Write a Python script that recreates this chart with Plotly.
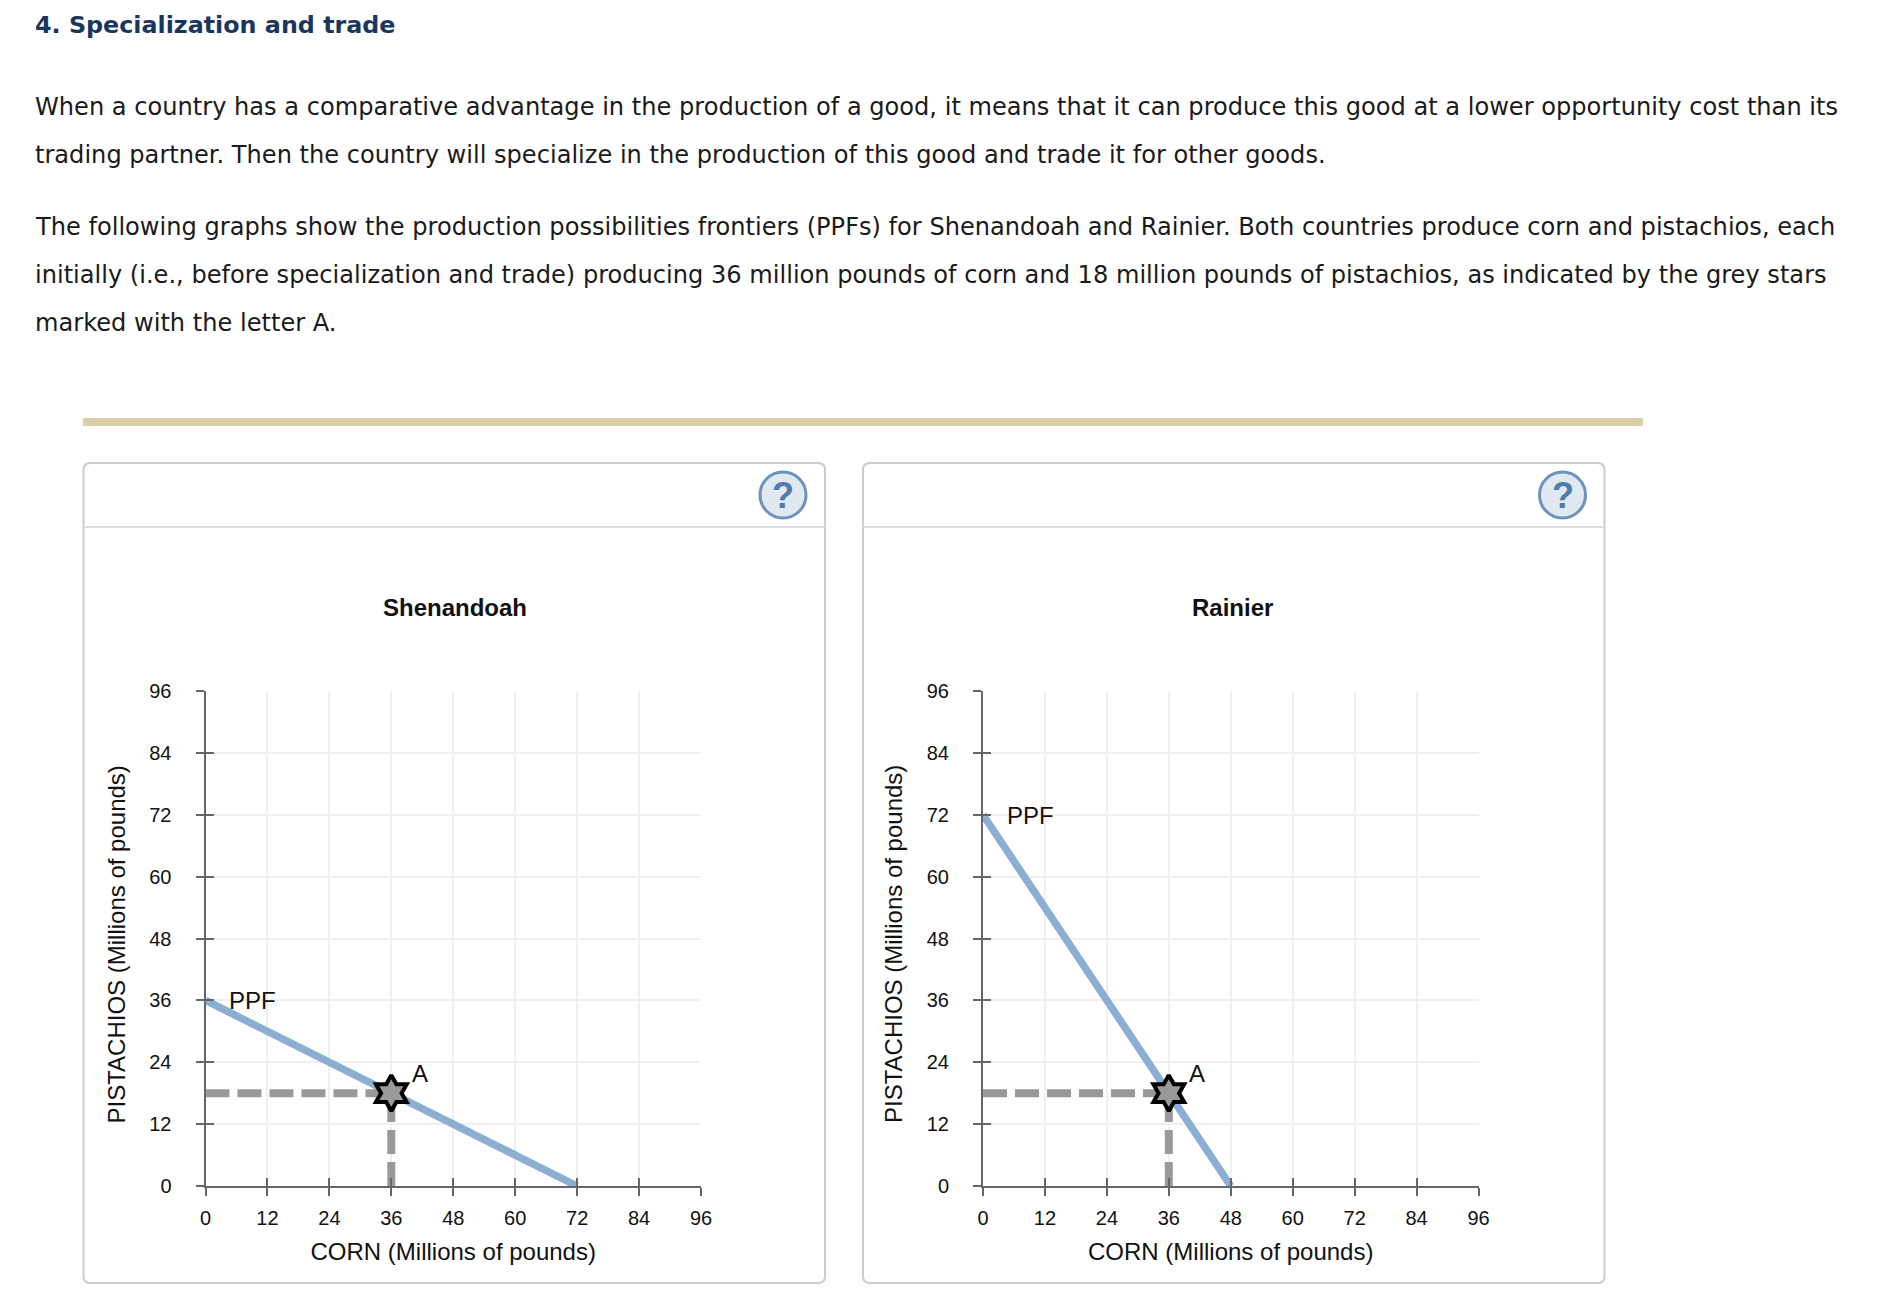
import plotly.graph_objects as go

W, H = 1884, 1315

# ---- data ----
countries = ["Shenandoah", "Rainier"]
ppf_corn = [[0, 72], [0, 48]]
ppf_pistachios = [[36, 0], [72, 0]]
point_corn = [36]
point_pistachios = [18]
point_label = ["A"]
tick_vals = [0, 12, 24, 36, 48, 60, 72, 84, 96]
x_title = "CORN (Millions of pounds)"
y_title = "PISTACHIOS (Millions of pounds)"
ppf_label_pos = [[4.2, 36.0], [4.2, 71.9]]
heading = "4. Specialization and trade"
body_lines = [
    "When a country has a comparative advantage in the production of a good, it means that it can produce this good at a lower opportunity cost than its",
    "trading partner. Then the country will specialize in the production of this good and trade it for other goods.",
    "The following graphs show the production possibilities frontiers (PPFs) for Shenandoah and Rainier. Both countries produce corn and pistachios, each",
    "initially (i.e., before specialization and trade) producing 36 million pounds of corn and 18 million pounds of pistachios, as indicated by the grey stars",
    "marked with the letter A.",
]
body_y = [106.5, 154.5, 226.5, 274.5, 323]

# ---- layout helpers (pixels -> paper) ----
def px(x): return x / W
def py(y): return 1 - y / H

PLOT_L = [205.5, 983]
PLOT_W = 495.5
PLOT_T, PLOT_B = 691, 1186
PANEL_L = [83.5, 863]
PANEL_W = 741.5
PANEL_T, PANEL_D, PANEL_B = 463, 527, 1283
AX = "#666666"
FONT = "Liberation Sans, Arial, sans-serif"
TEXT = "DejaVu Sans, Verdana, sans-serif"

def rounded(x0, y0, x1, y1, r=7):
    X0, X1 = px(x0), px(x1)
    rx = r / W
    Y0, Y1 = py(y0), py(y1)
    ry = r / H
    return (f"M {X0+rx} {Y0} L {X1-rx} {Y0} Q {X1} {Y0} {X1} {Y0-ry} "
            f"L {X1} {Y1+ry} Q {X1} {Y1} {X1-rx} {Y1} L {X0+rx} {Y1} "
            f"Q {X0} {Y1} {X0} {Y1+ry} L {X0} {Y0-ry} Q {X0} {Y0} {X0+rx} {Y0} Z")

fig = go.Figure()
layout = dict(
    width=W, height=H, margin=dict(l=0, r=0, t=0, b=0, autoexpand=False),
    paper_bgcolor="white", plot_bgcolor="white", showlegend=False,
    font=dict(family=FONT, color="#111111"),
)
shapes = [dict(type="rect", xref="paper", yref="paper", x0=px(83), x1=px(1643),
               y0=py(418), y1=py(426), fillcolor="#d9cfa8", line_width=0, layer="below")]
annotations = [dict(text=f"<b>{heading}</b>", x=px(33), y=py(25), xref="paper", yref="paper",
                    xanchor="left", yanchor="middle", showarrow=False,
                    font=dict(family=TEXT, size=23.8, color="#1b365d"))]
for line, y in zip(body_lines, body_y):
    annotations.append(dict(text=line, x=px(33), y=py(y), xref="paper", yref="paper",
                            xanchor="left", yanchor="middle", showarrow=False,
                            font=dict(family=TEXT, size=24.1, color="#1a1a1a")))

for i, name in enumerate(countries):
    n = 2 * i + 1            # main axes
    m = 2 * i + 2            # overlay axes for the inward half of each tick
    xa, ya = f"x{n}", f"y{n}"
    xo, yo = f"x{m}", f"y{m}"
    dom_x = [px(PLOT_L[i]), px(PLOT_L[i] + PLOT_W)]
    dom_y = [py(PLOT_B), py(PLOT_T)]
    common = dict(range=[0, 96], tickmode="array", tickvals=tick_vals, zeroline=False, automargin=False,
                  showline=True, linecolor=AX, linewidth=2, ticklen=8, tickwidth=2, tickcolor=AX)
    layout[f"xaxis{n}"] = dict(common, domain=dom_x, anchor=ya, ticks="outside", showgrid=True,
                               gridcolor="#f0f0f0", gridwidth=2, tickfont=dict(size=20, color="#111111"),
                               ticklabelstandoff=5,
                               title=dict(text=x_title, font=dict(size=24, color="#111111"), standoff=15))
    layout[f"yaxis{n}"] = dict(common, domain=dom_y, anchor=xa, ticks="outside", showgrid=True,
                               gridcolor="#f0f0f0", gridwidth=2, tickfont=dict(size=20, color="#111111"),
                               ticklabelstandoff=20)
    layout[f"xaxis{m}"] = dict(common, domain=dom_x, anchor=yo, overlaying=xa, ticks="inside",
                               showgrid=False, showticklabels=False)
    layout[f"yaxis{m}"] = dict(common, domain=dom_y, anchor=xo, overlaying=ya, ticks="inside",
                               showgrid=False, showticklabels=False)

    fig.add_trace(go.Scatter(x=[None], y=[None], xaxis=xo, yaxis=yo, mode="lines", hoverinfo="skip"))
    fig.add_trace(go.Scatter(x=ppf_corn[i], y=ppf_pistachios[i], xaxis=xa, yaxis=ya, mode="lines",
                             line=dict(color="#8aaed4", width=7.5), cliponaxis=False))
    fig.add_trace(go.Scatter(x=[0, point_corn[0]], y=[point_pistachios[0]] * 2, xaxis=xa, yaxis=ya, mode="lines",
                             line=dict(color="#999999", width=8, dash="24px,8px")))
    fig.add_trace(go.Scatter(x=[point_corn[0]] * 2, y=[0, point_pistachios[0]], xaxis=xa, yaxis=ya, mode="lines",
                             line=dict(color="#999999", width=8, dash="24px,8px")))
    fig.add_trace(go.Scatter(x=point_corn, y=point_pistachios, xaxis=xa, yaxis=ya, mode="markers",
                             marker=dict(symbol="hexagram", size=27, color="#999999",
                                         line=dict(color="black", width=4))))

    annotations.append(dict(text=f"<b>{name}</b>", x=px(PLOT_L[i] + 248 + 1.5), y=py(607.5),
                            xref="paper", yref="paper", showarrow=False, xanchor="center", yanchor="middle",
                            font=dict(size=24, color="#111111")))
    annotations.append(dict(text=y_title, x=px(PLOT_L[i] - 89.5), y=py(944.5), xref="paper", yref="paper",
                            textangle=-90, showarrow=False, xanchor="center", yanchor="middle",
                            font=dict(size=24, color="#111111")))
    annotations.append(dict(text="PPF", x=ppf_label_pos[i][0], y=ppf_label_pos[i][1], xref=xa, yref=ya,
                            showarrow=False, xanchor="left", yanchor="middle", font=dict(size=24, color="#111111")))
    annotations.append(dict(text=point_label[0], x=41.5, y=21.8, xref=xa, yref=ya,
                            showarrow=False, xanchor="center", yanchor="middle", font=dict(size=24, color="#111111")))

    L = PANEL_L[i]
    shapes.append(dict(type="path", xref="paper", yref="paper", path=rounded(L, PANEL_T, L + PANEL_W, PANEL_B),
                       line=dict(color="#cccccc", width=2), fillcolor="rgba(0,0,0,0)", layer="below"))
    shapes.append(dict(type="line", xref="paper", yref="paper", x0=px(L), x1=px(L + PANEL_W), y0=py(PANEL_D), y1=py(PANEL_D),
                       line=dict(color="#dddddd", width=2), layer="below"))
    cx, cy, r = L + 699.5, 495, 23
    shapes.append(dict(type="circle", xref="paper", yref="paper", x0=px(cx - r), x1=px(cx + r), y0=py(cy - r), y1=py(cy + r),
                       fillcolor="#e0e8f1", line=dict(color="#6c92bd", width=3), layer="below"))
    annotations.append(dict(text="<b>?</b>", x=px(cx), y=py(cy), xref="paper", yref="paper", showarrow=False,
                            xanchor="center", yanchor="middle", font=dict(size=36, color="#4f7cab")))

layout["shapes"] = shapes
layout["annotations"] = annotations
fig.update_layout(**layout)
fig.write_html("out.html", config={"displayModeBar": False},
               post_script="document.body.style.margin='0';document.body.style.overflow='hidden';")
